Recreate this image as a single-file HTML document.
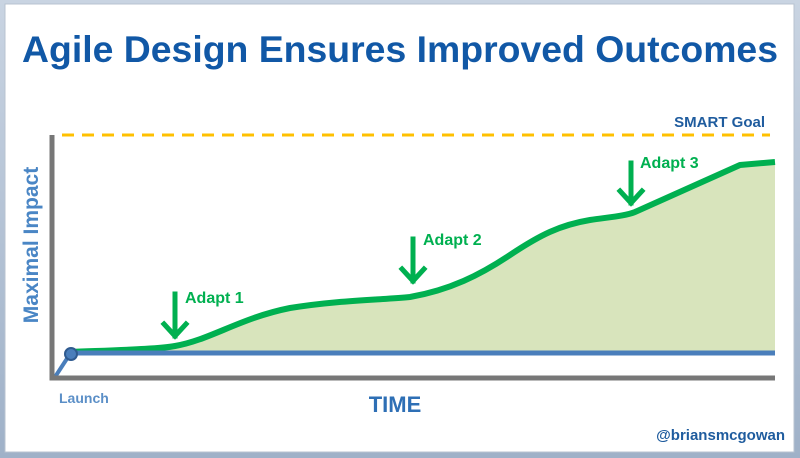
<!DOCTYPE html>
<html><head><style>
html,body{margin:0;padding:0;background:#a9b9cd;}
svg{display:block;font-family:"Liberation Sans",sans-serif;font-weight:bold;}
</style></head><body>
<svg width="800" height="458" viewBox="0 0 800 458">
<defs><linearGradient id="bg" x1="0" y1="0" x2="0" y2="1"><stop offset="0" stop-color="#c9d4e2"/><stop offset="1" stop-color="#9fb1c8"/></linearGradient></defs>
<rect width="800" height="458" fill="url(#bg)"/>
<rect x="5" y="4" width="789" height="448" fill="#fff" stroke="#b8c3d0" stroke-width="1"/>
<text x="400" y="62" text-anchor="middle" font-size="37" fill="#1158a6" textLength="756" lengthAdjust="spacingAndGlyphs">Agile Design Ensures Improved Outcomes</text>
<line x1="62" y1="135" x2="770" y2="135" stroke="#ffc000" stroke-width="3" stroke-dasharray="12 8"/>
<text x="765" y="127" text-anchor="end" font-size="15" fill="#1f5c9e">SMART Goal</text>
<path d="M70,352 C120,350 160,349 175,346 C210,340 240,318 290,308 C340,300 380,300 410,297 C450,290 480,275 510,255 C540,235 560,225 590,220 C610,217 625,216 635,212 L740,165 L775,162 L775,353 L70,353 Z" fill="#d8e4bc"/>
<path d="M70,352 C120,350 160,349 175,346 C210,340 240,318 290,308 C340,300 380,300 410,297 C450,290 480,275 510,255 C540,235 560,225 590,220 C610,217 625,216 635,212 L740,165 L775,162" fill="none" stroke="#00b050" stroke-width="6" stroke-linejoin="round"/>
<line x1="70" y1="353" x2="775" y2="353" stroke="#4a7ebb" stroke-width="5"/>
<line x1="55" y1="377" x2="70" y2="354" stroke="#4a7ebb" stroke-width="4"/>
<circle cx="71" cy="354" r="6" fill="#4a7ebb" stroke="#2f5a8f" stroke-width="2"/>
<path d="M52,135 L52,378 L775,378" fill="none" stroke="#777" stroke-width="5"/>
<g stroke="#00b050" stroke-width="5" fill="none" stroke-linecap="square">
<path d="M175,294 V336 M164,324 L175,336 L186,324"/>
<path d="M413,239 V281 M402,269 L413,281 L424,269"/>
<path d="M631,163 V203 M620,191 L631,203 L642,191"/>
</g>
<g font-size="16" fill="#00b050">
<text x="185" y="303">Adapt 1</text>
<text x="423" y="245">Adapt 2</text>
<text x="640" y="168">Adapt 3</text>
</g>
<text transform="translate(38,245) rotate(-90)" text-anchor="middle" font-size="21" fill="#4a86c5">Maximal Impact</text>
<text x="395" y="412" text-anchor="middle" font-size="22" fill="#2e6fb5">TIME</text>
<text x="59" y="403" font-size="14" fill="#5b8fc7">Launch</text>
<text x="785" y="440" text-anchor="end" font-size="15" fill="#1f5c9e">@briansmcgowan</text>
</svg>
</body></html>
